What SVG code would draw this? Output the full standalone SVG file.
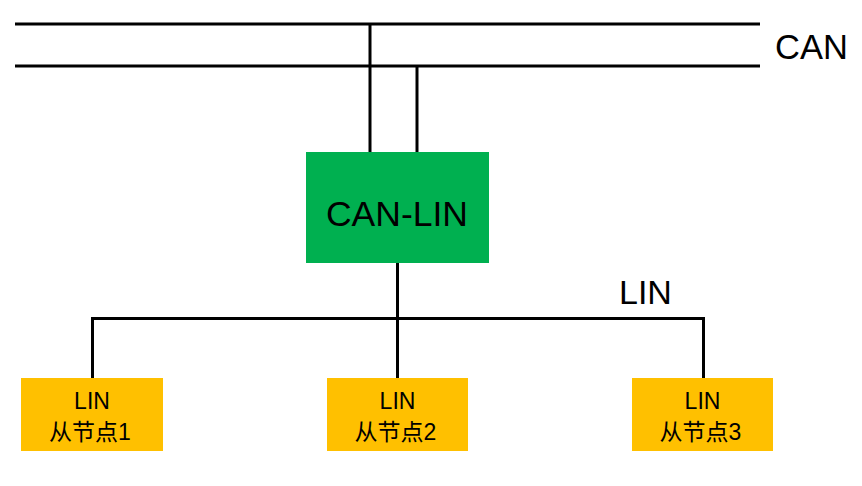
<svg xmlns="http://www.w3.org/2000/svg" width="862" height="486" viewBox="0 0 862 486">
<style>
.ln{stroke:#000;stroke-width:3;fill:none;stroke-linejoin:miter;stroke-linecap:butt}
.t{font-family:"Liberation Sans",Arial,sans-serif;fill:#000}
.tc{font-family:"Liberation Sans","Noto Sans CJK SC",sans-serif;fill:#000;font-size:23px;text-anchor:middle}
.slave{fill:#FFC000}
</style>
<rect width="862" height="486" fill="#fff"/>
<g id="connectors">
<line class="ln" x1="15" y1="24" x2="760" y2="24"/>
<line class="ln" x1="15" y1="66" x2="760" y2="66"/>
<line class="ln" x1="370" y1="24" x2="370" y2="152"/>
<line class="ln" x1="417" y1="66" x2="417" y2="152"/>
<line class="ln" x1="397.5" y1="262" x2="397.5" y2="378"/>
<polyline class="ln" points="92.5,379 92.5,318.5 703.5,318.5 703.5,378"/>
</g>
<g id="can-label"><text class="t" x="775" y="59" font-size="34.5">CAN</text></g>
<g id="lin-label"><text class="t" x="619" y="304" font-size="34">LIN</text></g>
<g id="can-lin">
<rect x="306" y="152" width="183" height="111" fill="#00B050"/>
<text class="t" x="397" y="226" font-size="35.5" text-anchor="middle">CAN-LIN</text>
</g>
<g id="slave1">
<rect class="slave" x="21" y="378" width="142" height="73"/>
<text class="tc" x="92" y="409">LIN</text>
<text class="tc" x="90" y="440">从节点1</text>
</g>
<g id="slave2">
<rect class="slave" x="327" y="378" width="141" height="73"/>
<text class="tc" x="397.5" y="409">LIN</text>
<text class="tc" x="395.5" y="440">从节点2</text>
</g>
<g id="slave3">
<rect class="slave" x="632" y="378" width="141" height="73"/>
<text class="tc" x="702.5" y="409">LIN</text>
<text class="tc" x="700.5" y="440">从节点3</text>
</g>
</svg>
